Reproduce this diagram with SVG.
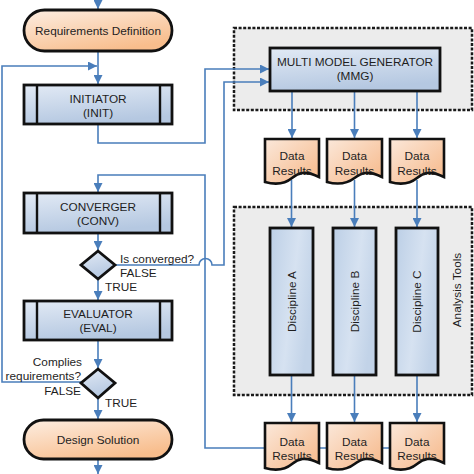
<svg xmlns="http://www.w3.org/2000/svg" width="474" height="474" viewBox="0 0 474 474">
<style>
.c{fill:none;stroke:#4a7ebb;stroke-width:1.6}
.a{marker-end:url(#ah)}
.box{fill:url(#blue);stroke:#111;stroke-width:2.8}
.inner{stroke:#111;stroke-width:2.4}
.term{fill:url(#orange);stroke:#111;stroke-width:2.8}
.doc{fill:url(#orange2);stroke:#111;stroke-width:2.6}
.disc{fill:url(#blueH);stroke:#111;stroke-width:2.8}
.grp{fill:#ececec;stroke:#1a1a1a;stroke-width:2.5;stroke-dasharray:3 1.6}
text{font-family:"Liberation Sans",Arial,sans-serif;font-size:11.8px;fill:#1e1e1e}
.m{text-anchor:middle}
.e{text-anchor:end}
</style>
<defs>
<linearGradient id="blue" x1="0" y1="0" x2="0.3" y2="1">
<stop offset="0" stop-color="#e2eaf5"/><stop offset="1" stop-color="#b5c8e1"/>
</linearGradient>
<linearGradient id="blueH" x1="0" y1="0" x2="1" y2="0.4">
<stop offset="0" stop-color="#bccfe6"/><stop offset="0.6" stop-color="#d6e2f1"/><stop offset="1" stop-color="#c2d3e8"/>
</linearGradient>
<linearGradient id="orange" x1="0" y1="0" x2="0.6" y2="1">
<stop offset="0" stop-color="#fdeee2"/><stop offset="1" stop-color="#f8bd8c"/>
</linearGradient>
<linearGradient id="orange2" x1="0" y1="0" x2="1" y2="1">
<stop offset="0" stop-color="#fbe8da"/><stop offset="1" stop-color="#f6b787"/>
</linearGradient>
<marker id="ah" viewBox="0 0 10 10" refX="10" refY="5" markerWidth="9" markerHeight="9" markerUnits="userSpaceOnUse" orient="auto">
<path d="M0,0 L10,5 L0,10 z" fill="#4a7ebb"/>
</marker>
</defs>

<g id="group-mmg"><rect class="grp" x="234" y="28" width="238" height="82"/></g>
<g id="group-analysis-tools">
<rect class="grp" x="234" y="207" width="238" height="188"/>
<text class="m" transform="translate(461,290) rotate(-90)">Analysis Tools</text>
</g>

<g id="connectors">
<path class="c a" d="M98,0 V9"/>
<path class="c a" d="M98,51 V84"/>
<path class="c a" d="M81,382 H2 V66 H97"/>
<path class="c a" d="M98,124 V143 H205 V69 H269"/>
<path class="c a" d="M115,265 H199 A6.5,6.5 0 0 1 212,265 H224 V82 H269"/>
<path class="c a" d="M390,448 H205 V175 H98 V192"/>
<path class="c a" d="M98,233 V250"/>
<path class="c a" d="M98,279 V300"/>
<path class="c a" d="M98,340 V368"/>
<path class="c a" d="M98,398 V419"/>
<path class="c a" d="M98,459 V474"/>
<path class="c a" d="M292,91 V138"/>
<path class="c a" d="M354.5,91 V138"/>
<path class="c a" d="M417,91 V138"/>
<path class="c a" d="M291.5,180 V227"/>
<path class="c a" d="M354.5,180 V227"/>
<path class="c a" d="M417,180 V227"/>
<path class="c a" d="M291.5,375 V422"/>
<path class="c a" d="M354.5,375 V422"/>
<path class="c a" d="M417,375 V422"/>
</g>

<g id="requirements-definition">
<rect class="term" x="24" y="10" width="148" height="41" rx="20.5"/>
<text class="m" x="98" y="35">Requirements Definition</text>
</g>
<g id="initiator">
<rect class="box" x="24" y="85" width="148" height="39"/>
<line class="inner" x1="37" y1="85" x2="37" y2="124"/><line class="inner" x1="160" y1="85" x2="160" y2="124"/>
<text class="m" x="98" y="103">INITIATOR</text>
<text class="m" x="98" y="116.5">(INIT)</text>
</g>
<g id="converger">
<rect class="box" x="24" y="193" width="148" height="40"/>
<line class="inner" x1="37" y1="193" x2="37" y2="233"/><line class="inner" x1="160" y1="193" x2="160" y2="233"/>
<text class="m" x="98" y="210.5">CONVERGER</text>
<text class="m" x="98" y="224.5">(CONV)</text>
</g>
<g id="is-converged">
<polygon class="box" points="98,251 115,265 98,279 81,265"/>
<text x="120" y="263">Is converged?</text>
<text x="120" y="277">FALSE</text>
<text x="105" y="291">TRUE</text>
</g>
<g id="evaluator">
<rect class="box" x="24" y="301" width="148" height="39"/>
<line class="inner" x1="37" y1="301" x2="37" y2="340"/><line class="inner" x1="160" y1="301" x2="160" y2="340"/>
<text class="m" x="98" y="318">EVALUATOR</text>
<text class="m" x="98" y="331.5">(EVAL)</text>
</g>
<g id="complies-requirements">
<polygon class="box" points="98,369 115,383 98,398 81,383"/>
<text class="e" x="82" y="366">Complies</text>
<text class="e" x="81" y="379.5">requirements?</text>
<text class="e" x="81" y="395">FALSE</text>
<text x="105" y="407">TRUE</text>
</g>
<g id="design-solution">
<rect class="term" x="24" y="420" width="148" height="39" rx="19.5"/>
<text class="m" x="98" y="444">Design Solution</text>
</g>

<g id="mmg">
<rect class="box" x="270" y="48" width="170" height="43"/>
<text class="m" x="355" y="66">MULTI MODEL GENERATOR</text>
<text class="m" x="355" y="80">(MMG)</text>
</g>

<g id="data-results-top-1">
<path class="doc" d="M265,139 H319 V177 C305,170 298,173 292,178 C286,183 276,185 265,182 Z"/>
<text class="m" x="292" y="160">Data</text><text class="m" x="292" y="174.5">Results</text>
</g>
<g id="data-results-top-2">
<path class="doc" d="M327,139 H382 V177 C368,170 361,173 354.5,178 C348,183 338,185 327,182 Z"/>
<text class="m" x="354.5" y="160">Data</text><text class="m" x="354.5" y="174.5">Results</text>
</g>
<g id="data-results-top-3">
<path class="doc" d="M390,139 H444 V177 C430,170 423,173 417,178 C411,183 401,185 390,182 Z"/>
<text class="m" x="417" y="160">Data</text><text class="m" x="417" y="174.5">Results</text>
</g>

<g id="discipline-a">
<rect class="disc" x="270" y="228" width="43" height="147"/>
<text class="m" transform="translate(295.5,301.5) rotate(-90)">Discipline A</text>
</g>
<g id="discipline-b">
<rect class="disc" x="333" y="228" width="43" height="147"/>
<text class="m" transform="translate(358.5,301.5) rotate(-90)">Discipline B</text>
</g>
<g id="discipline-c">
<rect class="disc" x="396" y="228" width="42" height="147"/>
<text class="m" transform="translate(421,301.5) rotate(-90)">Discipline C</text>
</g>

<g id="data-results-bottom-1">
<path class="doc" d="M265,423 H319 V463 C305,456 298,459 292,464 C286,469 276,471 265,468 Z"/>
<text class="m" x="292" y="445.5">Data</text><text class="m" x="292" y="460">Results</text>
</g>
<g id="data-results-bottom-2">
<path class="doc" d="M327,423 H382 V463 C368,456 361,459 354.5,464 C348,469 338,471 327,468 Z"/>
<text class="m" x="354.5" y="445.5">Data</text><text class="m" x="354.5" y="460">Results</text>
</g>
<g id="data-results-bottom-3">
<path class="doc" d="M390,423 H444 V463 C430,456 423,459 417,464 C411,469 401,471 390,468 Z"/>
<text class="m" x="417" y="445.5">Data</text><text class="m" x="417" y="460">Results</text>
</g>
</svg>
